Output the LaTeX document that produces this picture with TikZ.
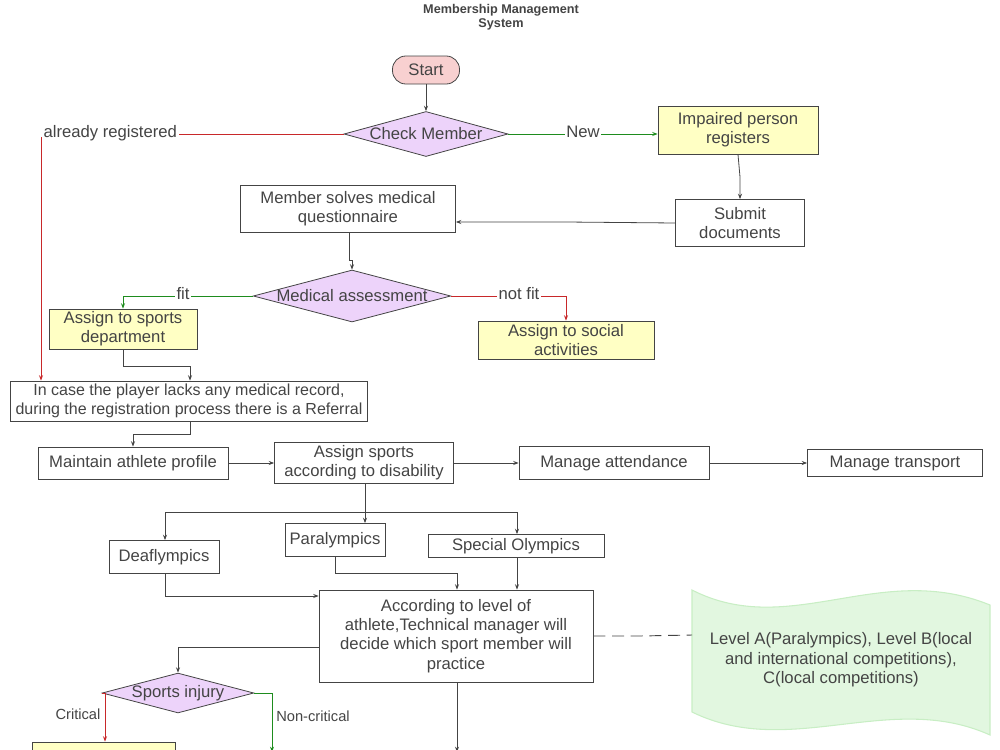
\documentclass[tikz,border=0pt]{standalone}
\usepackage{fontspec}
\setmainfont{Liberation Sans}
\usetikzlibrary{shapes.geometric,arrows.meta}
\definecolor{ln}{HTML}{444444}
\definecolor{yel}{HTML}{FFFFC4}
\definecolor{pur}{HTML}{EDD3FA}
\definecolor{pnk}{HTML}{F8D0D0}
\definecolor{grn}{HTML}{1E8C1E}
\definecolor{rd}{HTML}{C8282A}
\definecolor{docf}{HTML}{E2F7E0}
\definecolor{docd}{HTML}{C8EEC4}
\begin{document}
\begin{tikzpicture}[x=0.75pt,y=-0.75pt,
  font=\fontsize{12.5}{14.5}\selectfont, text=ln,
  box/.style={draw=ln,line width=0.6pt,align=center,inner sep=1pt},
  dia/.style={draw=ln,fill=pur,diamond,aspect=3.8,inner sep=0pt,line width=0.6pt},
  ar/.style={draw=ln,line width=0.6pt,-{Stealth[length=4pt,width=3pt]}},
  lab/.style={fill=white,inner sep=1pt,text=ln}]
\useasboundingbox (0,0) rectangle (1000,750);
\node[font=\bfseries\fontsize{9.5}{10.5}\selectfont,align=center] (title) at (501,17) {Membership Management\\System};
\node[box,fill=pnk,rounded corners=10pt,minimum width=67*0.75pt,minimum height=28*0.75pt] (start) at (426,70) {Start};
\node[dia,minimum width=164*0.75pt,minimum height=45*0.75pt] (check) at (426,134) {Check Member};
\node[box,fill=yel,minimum width=160*0.75pt,minimum height=48*0.75pt] (imp) at (738,130) {Impaired person\\registers};
\node[box,minimum width=129*0.75pt,minimum height=47*0.75pt] (sub) at (740,223) {Submit\\documents};
\node[box,minimum width=215*0.75pt,minimum height=47*0.75pt] (quest) at (348,209) {Member solves medical\\questionnaire};
\node[dia,minimum width=196*0.75pt,minimum height=38*0.75pt] (med) at (352,296) {Medical assessment};
\node[box,fill=yel,minimum width=148*0.75pt,minimum height=40*0.75pt] (dep) at (123,329) {Assign to sports\\department};
\node[box,fill=yel,minimum width=176*0.75pt,minimum height=38*0.75pt] (soc) at (566,340) {Assign to social\\activities};
\node[box,minimum width=357*0.75pt,minimum height=40*0.75pt,font=\fontsize{12}{14}\selectfont] (ref) at (189,401) {In case the player lacks any medical record,\\during the registration process there is a Referral};
\node[box,minimum width=190*0.75pt,minimum height=32*0.75pt] (prof) at (133,463) {Maintain athlete profile};
\node[box,minimum width=179*0.75pt,minimum height=41*0.75pt] (asg) at (364,463) {Assign sports\\according to disability};
\node[box,minimum width=190*0.75pt,minimum height=33*0.75pt] (att) at (614,463) {Manage attendance};
\node[box,minimum width=175*0.75pt,minimum height=27*0.75pt] (tr) at (895,463) {Manage transport};
\node[box,minimum width=110*0.75pt,minimum height=33*0.75pt] (deaf) at (164,557) {Deaflympics};
\node[box,minimum width=100*0.75pt,minimum height=33*0.75pt] (para) at (335,540) {Paralympics};
\node[box,minimum width=176*0.75pt,minimum height=23*0.75pt] (spec) at (516,546) {Special Olympics};
\node[box,minimum width=274*0.75pt,minimum height=92*0.75pt] (acc) at (456,636) {According to level of\\athlete,Technical manager will\\decide which sport member will\\practice};
\node[dia,minimum width=137*0.75pt,minimum height=31*0.75pt] (inj) at (178,693) {Sports injury};
\node[box,fill=yel,minimum width=143*0.75pt,minimum height=30*0.75pt] (bot) at (104,757) {};
% document shape
\path[fill=docf,draw=docd,line width=0.8pt] (692,590) .. controls (790,640) and (880,560) .. (990,605) -- (990,735) .. controls (890,690) and (790,760) .. (692,712) -- cycle;
\node[align=center] (doc) at (841,660) {Level A(Paralympics), Level B(local\\and international competitions),\\C(local competitions)};
\coordinate (docw) at (692,635);
% edges
\node[inner sep=1pt,anchor=west] (lr) at (42,133) {already registered};
\draw[draw=rd,line width=0.6pt] (check.west) -- (check.west -| lr.east);
\draw[ar,draw=rd] (41,137) -- (ref.north -| 41,0);
\draw[ar] (start) -- (check);
\draw[ar,draw=grn] (check.east) -- (imp.west |- check.east);
\node[lab] (ln) at (583,132) {New};
\draw[ar] (imp.south) -- (740,177) -- (sub.north);
\draw[ar] (sub.west) -- (566,222) -- (quest.east |- 0,222);
\draw[ar] (quest.south -| 349,0) -- (349,260) -- (352,260) -- (med.north);
\draw[ar,draw=grn] (med.west) -- (123,296) -- (dep.north);
\node[lab] (lf) at (183,294) {fit};
\draw[ar,draw=rd] (med.east) -- (566,296) -- (soc.north);
\node[lab] (lnf) at (519,294) {not fit};
\draw[ar] (dep.south) -- (123,366) -- (190,366) -- (ref.north -| 190,0);
\draw[ar] (ref.south -| 190,0) -- (190,434) -- (133,434) -- (prof.north);
\draw[ar] (prof.east) -- (asg.west);
\draw[ar] (asg.east) -- (att.west);
\draw[ar] (att.east) -- (tr.west);
\draw[ar] (asg.south -| 365,0) -- (365,512) -- (165,512) -- (deaf.north -| 165,0);
\draw[ar] (365,512) -- (para.north -| 365,0);
\draw[ar] (365,512) -- (517,512) -- (spec.north -| 517,0);
\draw[ar] (deaf.south -| 165,0) -- (165,596) -- (acc.west |- 0,596);
\draw[ar] (para.south) -- (335,573) -- (457,573) -- (acc.north -| 457,0);
\draw[ar] (spec.south -| 517,0) -- (acc.north -| 517,0);
\draw[ln,dashed,dash pattern=on 9pt off 5pt,line width=0.7pt] (acc.east |- 0,636) -- (640,636) -- (docw);
\draw[ar] (acc.west |- 0,647) -- (178,647) -- (inj.north);
\draw[ar,draw=rd] (inj.west) -- (105,693) -- (bot.north -| 105,0);
\node (lc) at (78,714) {\fontsize{11}{12}\selectfont Critical};
\coordinate (e1) at (272,752);
\coordinate (e2) at (457,752);
\draw[ar,draw=grn] (inj.east) -- (272,693) -- (e1);
\node (lnc) at (313,716) {\fontsize{11}{12}\selectfont Non-critical};
\draw[ar] (acc.south -| 457,0) -- (e2);
\end{tikzpicture}
\end{document}
